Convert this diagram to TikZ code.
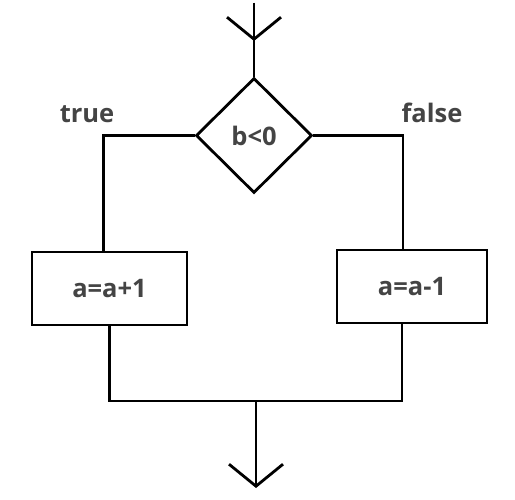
\documentclass[tikz,border=0pt]{standalone}
\usepackage{fontspec}
\setmainfont{Open Sans}
\usetikzlibrary{shapes.geometric,arrows.meta}
\definecolor{labelgray}{HTML}{444444}
\begin{document}
\begin{tikzpicture}[x=1pt, y=-1pt, line width=2.8pt, >={Straight Barb[length=22pt,width=54pt]}]

    \tikzset{%
    every decision/.style={
        diamond,
        draw,
        aspect=1,
        minimum width=116pt,
        minimum height=115pt,
        inner sep=0pt
        },
    every process/.style={
        rectangle,
        draw,
        minimum height=73pt,
        inner sep=0pt
        },
    every label text/.style={
        font=\bfseries\fontsize{25.5}{28}\selectfont,
        text=labelgray
        },
    }

    \useasboundingbox (0,0) rectangle (515,500);

    % Decision node
    \node [every decision/.try, every label text/.try] (cond) at (254,135.5) {b<0};

    % Process boxes for both branches
    \foreach \n/\x/\y/\w/\t in {left/109.5/288.5/155/a=a+1, right/412/286.5/150/a=a-1}
    \node [every process/.try, every label text/.try, minimum width=\w pt] (\n) at (\x,\y) {\t};

    % Branch labels
    \node [every label text/.try, anchor=base] (truelabel) at (87,123) {true};
    \node [every label text/.try, anchor=base] (falselabel) at (432,123) {false};

    % Entry arrow
    \coordinate (entry) at (254,3);
    \coordinate (entrytip) at (254,41);
    \draw (entry) -- (cond.north);
    \draw [->] (entry) -- (entrytip);

    % Branches down to the boxes
    \draw (cond.west) -| ([xshift=-6pt]left.north);
    \draw (cond.east) -| ([xshift=-9pt]right.north);

    % Merge and exit arrow
    \coordinate (join) at (256,401);
    \coordinate (exit) at (256,488);
    \draw (left.south) |- (join) -| ([xshift=-10pt]right.south);
    \draw [->] (join) -- (exit);

\end{tikzpicture}
\end{document}
